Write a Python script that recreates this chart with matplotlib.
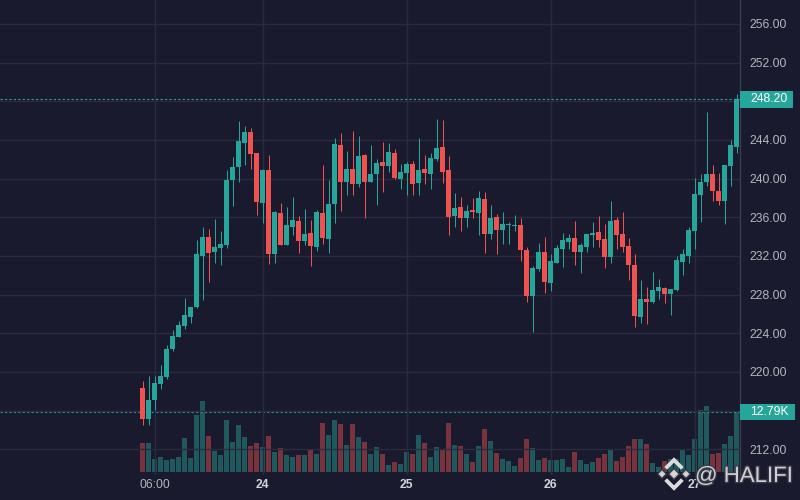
import matplotlib
matplotlib.use("Agg")
import matplotlib.pyplot as plt
import matplotlib.patheffects as pe
import matplotlib.transforms as mtransforms
from matplotlib.patches import Polygon, Rectangle
import numpy as np

BG = "#1a1a2e"
GRID = "#2a2b3f"
UP = "#26a69a"
DOWN = "#ef5350"
TEXT = "#b2b5be"

# hourly candles, first one at 23rd 04:00
open_ = [218.35, 215.17, 217.11, 218.76, 219.48, 222.38, 223.62, 224.76, 225.69, 226.73,
         232.00, 233.97, 232.41, 232.83, 233.14, 239.86, 241.21, 243.69, 244.83, 242.66,
         237.48, 240.90, 232.21, 236.45, 233.14, 235.00, 235.62, 233.55, 234.38, 232.93,
         236.45, 233.76, 237.38, 243.49, 239.66, 241.00, 239.45, 242.45, 239.66, 240.48,
         241.73, 241.31, 242.66, 239.97, 240.59, 241.52, 239.55, 241.00, 240.48, 242.04,
         243.28, 240.90, 236.14, 237.07, 235.93, 236.76, 236.45, 237.90, 234.28, 236.04,
         234.69, 235.20, 235.10, 235.20, 232.62, 227.86, 230.65, 232.41, 229.21, 231.27,
         232.72, 233.45, 233.86, 232.41, 232.93, 234.17, 234.48, 233.76, 231.89, 235.72,
         234.27, 233.03, 231.07, 225.69, 227.55, 227.24, 228.38, 228.69, 228.07, 228.48,
         231.38, 232.00, 234.58, 238.31, 239.65, 240.48, 238.72, 237.69, 241.31, 243.27]
high_ = [219.07, 219.59, 219.59, 220.73, 222.80, 224.35, 225.28, 227.66, 226.73, 233.66,
         235.00, 234.80, 235.83, 234.59, 240.90, 242.24, 245.97, 245.45, 245.24, 242.66,
         241.00, 242.45, 236.66, 237.48, 237.07, 238.11, 236.14, 236.86, 235.73, 236.76,
         241.42, 239.86, 244.21, 244.73, 242.86, 244.93, 244.42, 242.55, 243.49, 242.04,
         243.80, 243.69, 243.07, 241.52, 241.73, 241.83, 244.21, 242.45, 242.66, 246.17,
         246.07, 242.35, 238.52, 238.11, 237.28, 238.00, 238.73, 238.62, 237.28, 236.35,
         236.55, 235.52, 236.24, 235.93, 232.93, 230.96, 233.34, 233.96, 232.21, 233.14,
         234.38, 234.27, 235.62, 233.34, 234.27, 235.52, 236.14, 235.31, 237.69, 236.03,
         236.55, 233.86, 232.21, 229.51, 228.79, 230.34, 229.62, 228.79, 228.58, 232.00,
         232.72, 235.00, 240.07, 240.48, 246.89, 241.41, 240.58, 241.41, 244.00, 248.76]
low_ = [214.52, 214.52, 216.07, 218.24, 219.28, 222.17, 223.62, 224.45, 225.07, 226.62,
        227.45, 229.31, 231.28, 231.07, 232.83, 237.17, 239.66, 241.42, 241.00, 236.24,
        235.42, 231.17, 231.28, 233.14, 233.14, 234.17, 232.31, 233.14, 230.97, 232.52,
        233.24, 232.31, 235.42, 236.66, 238.31, 238.31, 239.14, 235.93, 239.66, 237.28,
        238.62, 240.69, 239.97, 238.93, 238.31, 238.31, 238.31, 239.45, 238.93, 241.83,
        239.55, 234.17, 235.00, 234.59, 235.00, 235.93, 234.17, 232.31, 233.76, 232.21,
        233.24, 233.24, 234.58, 231.48, 227.24, 224.14, 230.45, 228.17, 228.38, 231.27,
        230.86, 232.72, 231.07, 230.24, 232.41, 232.93, 232.93, 230.76, 231.27, 232.72,
        232.41, 229.51, 224.65, 225.07, 224.96, 227.14, 227.55, 227.14, 225.89, 228.38,
        230.03, 231.27, 232.72, 235.52, 239.24, 237.69, 237.27, 235.31, 239.24, 242.65]
close_ = [215.17, 217.11, 218.86, 219.59, 222.38, 223.73, 224.86, 225.90, 226.73, 232.21,
          233.97, 232.31, 232.93, 233.24, 239.86, 241.21, 243.90, 244.83, 242.55, 237.59,
          240.90, 232.21, 236.55, 233.14, 235.21, 235.73, 233.55, 234.28, 233.04, 236.55,
          233.86, 237.38, 243.59, 239.66, 241.00, 239.45, 242.35, 239.66, 240.48, 241.62,
          241.31, 242.76, 240.07, 240.69, 241.52, 239.45, 240.90, 240.59, 242.14, 243.17,
          240.69, 236.04, 236.97, 235.93, 236.66, 236.55, 238.00, 234.28, 235.93, 234.69,
          235.31, 235.31, 235.20, 232.62, 227.86, 230.76, 232.41, 229.31, 231.48, 232.83,
          233.65, 233.86, 232.41, 233.14, 234.27, 234.38, 233.65, 231.89, 235.62, 234.17,
          232.93, 231.07, 225.79, 227.55, 227.24, 228.48, 228.79, 228.07, 228.58, 231.58,
          232.21, 234.69, 238.41, 239.65, 240.48, 238.72, 237.69, 241.41, 243.48, 248.20]
# volume in thousands
volume = [6.18, 6.18, 2.77, 3.20, 2.56, 2.77, 3.20, 7.25, 2.98, 12.15,
          15.14, 7.67, 4.48, 3.62, 11.09, 6.40, 10.02, 7.46, 5.54, 6.18,
          5.33, 7.67, 4.26, 5.12, 3.62, 3.20, 3.62, 3.62, 4.69, 3.84,
          10.45, 7.89, 11.09, 10.23, 5.76, 10.23, 7.46, 6.40, 3.84, 5.33,
          3.84, 1.49, 2.13, 1.71, 4.26, 3.84, 7.89, 6.18, 3.20, 5.33,
          4.90, 10.45, 5.76, 5.54, 3.84, 2.13, 5.54, 9.17, 6.61, 4.05,
          2.77, 2.35, 1.28, 2.98, 7.04, 5.12, 2.56, 2.98, 2.56, 2.56,
          2.77, 1.07, 4.26, 2.56, 1.71, 2.13, 2.98, 3.84, 4.90, 2.35,
          3.20, 5.54, 7.04, 7.04, 5.97, 1.92, 1.07, 2.35, 2.77, 2.77,
          4.69, 3.62, 7.04, 13.22, 14.07, 3.84, 4.05, 5.97, 7.67, 12.79]

date_ticks = [2, 20, 44, 68, 92]
date_labels = ["06:00", "24", "25", "26", "27"]
price_ticks = np.arange(212, 257, 4)
hidden_ticks = [216, 248]  # sit under the last-value tags

o = np.array(open_)
h = np.array(high_)
l = np.array(low_)
c = np.array(close_)
v = np.array(volume)
x = np.arange(len(o))
up = c >= o
colors = np.where(up, UP, DOWN)

fig = plt.figure(figsize=(8, 5), dpi=100, facecolor=BG)
rect = [0, 0.05, 0.925, 0.95]
axv = fig.add_axes(rect, zorder=1)
ax = fig.add_axes(rect, sharex=axv, zorder=2)
ax.patch.set_visible(False)
axv.patch.set_visible(False)

# volume
axv.bar(x, v, width=0.83, color=colors, alpha=0.45, linewidth=0)
axv.set_ylim(-0.64, 100.85)
axv.axis("off")
axv.axhline(v[-1], color=UP, lw=0.8, ls=(0, (2, 2)))

# candles
ax.vlines(x, l, h, colors=colors, lw=0.72)
body = np.maximum(np.abs(c - o), 0.12)
ax.bar(x, body, bottom=np.minimum(o, c), width=0.83, color=colors, linewidth=0)
ax.axhline(c[-1], color=UP, lw=0.8, ls=(0, (2, 2)))

ax.set_xlim(-23.75, 99.58)
ax.set_ylim(209.34, 258.48)

for s in ["top", "left", "bottom"]:
    ax.spines[s].set_visible(False)
ax.spines["right"].set_color("#3a3d50")
ax.spines["right"].set_linewidth(1)

ax.set_axisbelow(True)
ax.grid(True, color=GRID, lw=1)
ax.yaxis.tick_right()
ax.set_yticks(price_ticks)
ax.set_yticklabels(["" if p in hidden_ticks else f"{p:.2f}" for p in price_ticks])
ax.tick_params(axis="y", length=0, pad=7, labelsize=8.7, labelcolor=TEXT)
ax.set_xticks(date_ticks)
ax.set_xticklabels(date_labels)
ax.tick_params(axis="x", length=0, pad=3, labelsize=8.7)
for lab in ax.get_xticklabels():
    lab.set_fontfamily("Liberation Sans")
    if lab.get_text() == "06:00":
        lab.set_color(TEXT)
    else:
        lab.set_color("#d1d4dc")
        lab.set_fontweight("bold")
for lab in ax.get_yticklabels():
    lab.set_fontfamily("Liberation Sans")

# last price / last volume tags
tp = mtransforms.blended_transform_factory(ax.transAxes, ax.transData)
ax.add_patch(Rectangle((1.0, c[-1] - 0.88), 53 / 740, 1.76, transform=tp,
                       fc=UP, ec="none", clip_on=False, zorder=5))
ax.text(1.0 + 10 / 740, c[-1], f"{c[-1]:.2f}", transform=tp, ha="left",
        va="center", color="#ffffff", fontsize=8.7, family="Liberation Sans",
        clip_on=False, zorder=6)
tv = mtransforms.blended_transform_factory(ax.transAxes, axv.transData)
ax.add_patch(Rectangle((1.0, v[-1] - 1.71), 55 / 740, 3.42, transform=tv,
                       fc=UP, ec="none", clip_on=False, zorder=5))
ax.text(1.0 + 10 / 740, v[-1], f"{v[-1]:.2f}K", transform=tv, ha="left",
        va="center", color="#ffffff", fontsize=8.7, family="Liberation Sans",
        clip_on=False, zorder=6)

# watermark
def px(xp, yp):
    return (xp / 800, 1 - yp / 500)

def diamond(x0, y0, r):
    return [px(x0, y0 - r), px(x0 + r, y0), px(x0, y0 + r), px(x0 - r, y0)]

wm = "#dcdcdc"
stroke = [pe.withStroke(linewidth=2, foreground="#3a3a4a")]
cx, cy = 674, 474
for (dx, r) in [(0, 4.5), (-12, 3.5), (12, 3.5)]:
    p = Polygon(diamond(cx + dx, cy, r), closed=True, transform=fig.transFigure,
                fc=wm, ec="none", alpha=0.9)
    p.set_path_effects(stroke)
    fig.patches.append(p)
for sgn in (-1, 1):
    pts = [px(cx - 7, cy + sgn * 7), px(cx, cy + sgn * 14), px(cx + 7, cy + sgn * 7)]
    xs, ys = zip(*pts)
    ln = plt.Line2D(xs, ys, transform=fig.transFigure, color=wm, lw=2.6, alpha=0.9,
                    solid_joinstyle="miter")
    ln.set_path_effects(stroke + [pe.Normal()])
    fig.lines.append(ln)
fig.text(695 / 800, 1 - 482 / 500, "@ HALIFI", color=wm, fontsize=16,
         family="Liberation Sans", ha="left", va="baseline", alpha=0.92,
         path_effects=stroke)

fig.savefig("out.png", dpi=100, facecolor=BG)
